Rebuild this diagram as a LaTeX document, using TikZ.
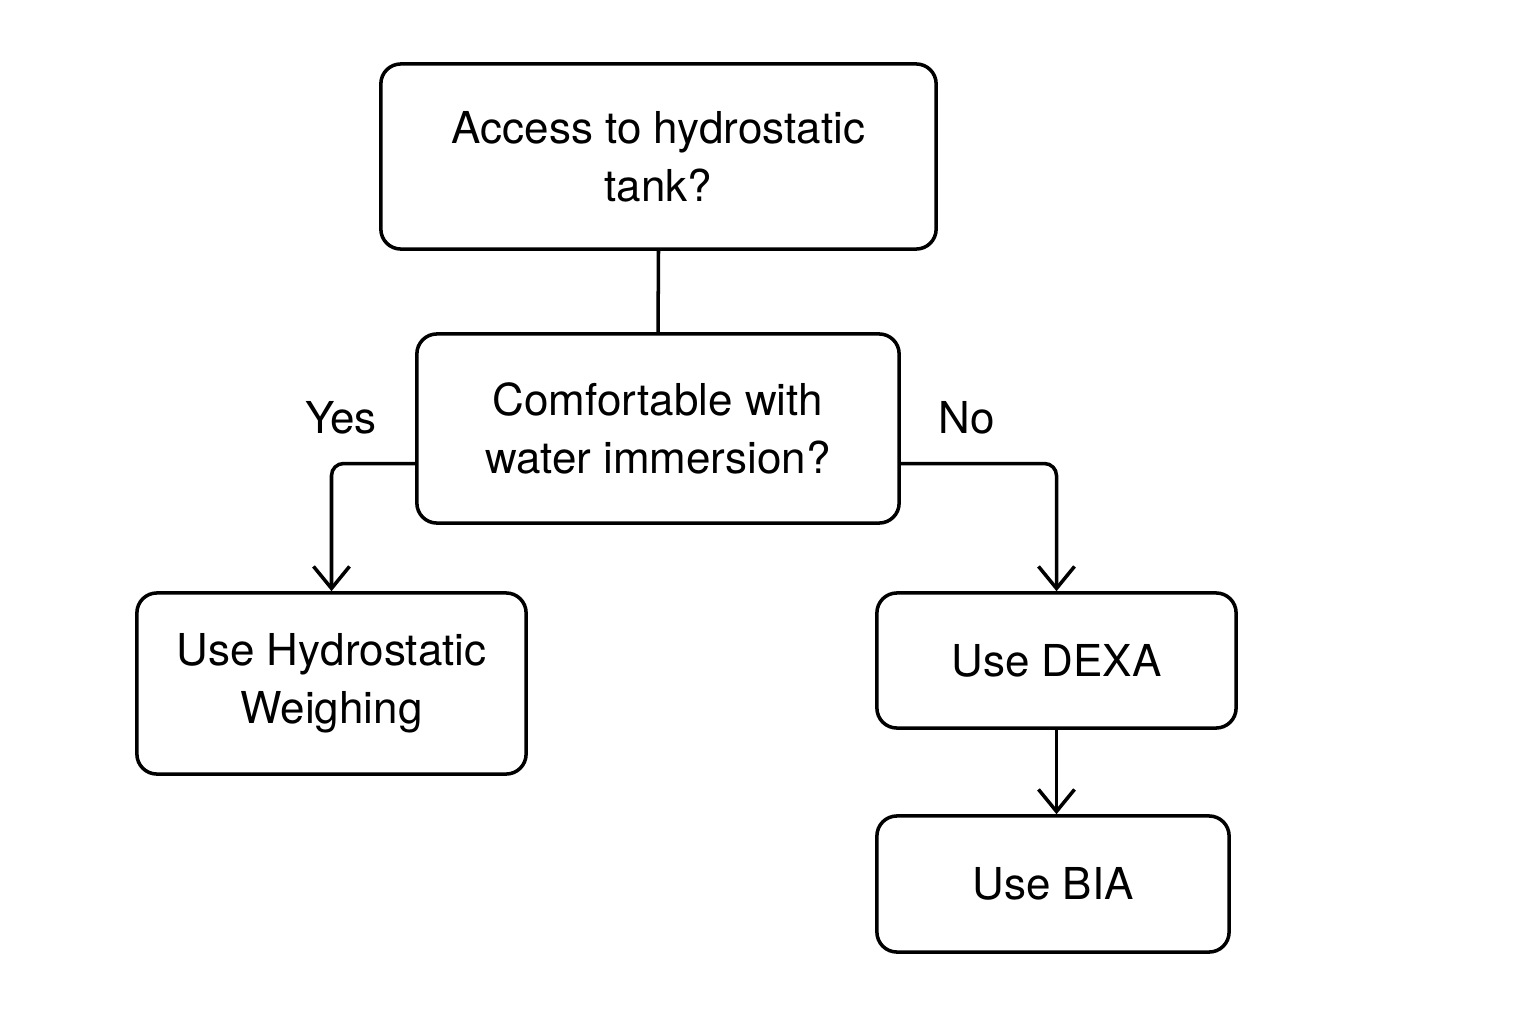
\documentclass[tikz,border=0pt]{standalone}
\usepackage{fontspec}
\setmainfont{TeX Gyre Heros}
\usepackage{tikz}
\usetikzlibrary{arrows.meta}
\usetikzlibrary{positioning}

\begin{document}
\begin{tikzpicture}[x=0.01cm, y=-0.01cm,
        box/.style={rectangle, draw=black, line width=1pt, rounded corners=0.2cm, align=center, font=\fontsize{12.5}{16.5}\selectfont},
        link/.style={draw=black, line width=1pt},
        flow/.style={link, -{Straight Barb[length=2.2mm, width=3.6mm, line width=1pt]}}
      ]
        \useasboundingbox (0,0) rectangle (1536,1024);
        \node[box, minimum width=5.55cm, minimum height=1.85cm]  (tank)  at (658.5,156.5) {Access to hydrostatic\\tank?};
        \node[box, minimum width=4.82cm, minimum height=1.89cm]  (water) at (658,428.5)  {Comfortable with\\water immersion?};
        \node[box, minimum width=3.89cm, minimum height=1.81cm]  (hydro) at (331.5,683.5) {Use Hydrostatic\\Weighing};
        \node[box, minimum width=3.59cm, minimum height=1.35cm]  (dexa)  at (1056.5,660.5) {Use DEXA};
        \node[box, minimum width=3.52cm, minimum height=1.36cm]  (bia)   at (1053,884)   {Use BIA};

        \draw[link]  (tank.south) -- (water.north);
        \draw[flow, rounded corners=0.12cm]  ([yshift=-0.35cm]water.west) -| (hydro.north);
        \draw[flow, rounded corners=0.12cm]  ([yshift=-0.35cm]water.east) -| (dexa.north);
        \draw[flow]  (dexa.south) -- (dexa.south |- bia.north);

        \node[font=\fontsize{12.5}{15}\selectfont] (yes) at (341,418) {Yes};
        \node[font=\fontsize{12.5}{15}\selectfont] (no)  at (967,418) {No};
      \end{tikzpicture}
\end{document}
